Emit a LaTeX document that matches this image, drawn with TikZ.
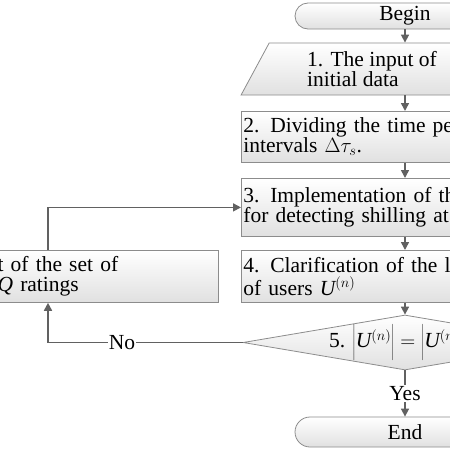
\documentclass[tikz,border=0pt]{standalone}
\usepackage{fontspec}
\setmainfont{Liberation Serif}
\usepackage{xcolor}
\usetikzlibrary{shapes.geometric, shapes.misc, arrows.meta}

\tikzset{
	shade/.style={draw=black!45, line width=0.8pt, top color=white, bottom color=black!12},
	txt/.style={font=\fontsize{21.5}{20}\selectfont},
	box/.style={shade, txt, rectangle, inner xsep=2pt, inner ysep=0pt, align=left},
	term/.style={shade, txt, rounded rectangle, minimum width=220pt, inner sep=0pt},
	arr/.style={draw=black!62, line width=1.6pt, -{Triangle[width=8pt,length=8pt]}},
	lbl/.style={txt, fill=white, inner sep=1pt},
}
\newcommand{\tallbar}{\rule[-12pt]{0pt}{30pt}}

\begin{document}
\begin{tikzpicture}[x=1pt, y=-1pt]
	\useasboundingbox (0,0) rectangle (450,450);
	\clip (0,0) rectangle (450,450);

	\node[term, minimum height=26pt] (begin) at (405,16) {Begin};
	\node[shade, txt, trapezium, trapezium left angle=63.4, trapezium right angle=116.6, trapezium stretches=true, minimum width=262pt, minimum height=52pt, align=left, inner sep=0pt] (input) at (372,69) {1. The input of\\initial data};
	\node[box, anchor=north west, text width=300pt, minimum height=51pt] (divide) at (241,111) {2. Dividing the time pe\\intervals $\Delta\tau_s$.};
	\node[box, anchor=north west, text width=300pt, minimum height=58pt] (implement) at (241,178) {3. Implementation of th\\for detecting shilling at};
	\node[box, anchor=north west, text width=300pt, minimum height=52pt, font=\fontsize{21.5}{23}\selectfont] (clarify) at (241,250) {4. Clarification of the li\\of users $\mathit{U}^{(n)}$};
	\node[box, anchor=north east, text width=219pt, minimum height=52pt] (fix) at (219,250) {t of the set of\\$\mathit{Q}$ ratings};
	\node[shade, diamond, minimum width=324pt, minimum height=55pt, inner sep=0pt] (check) at (405,342.5) {};
	\node[txt, anchor=west, inner sep=0pt] (cond) at (329,342.5) {5. $\left|\tallbar\mathit{U}^{(n)}\right| = \left|\tallbar\mathit{U}^{(n-}\right.$};
	\node[term, minimum height=30pt] (end) at (405,432) {End};

	\coordinate (back) at (48,0);

	\draw[arr] (begin.south) -- (begin.south |- input.north);
	\draw[arr] (begin.south |- input.south) -- (begin.south |- divide.north);
	\draw[arr] (begin.south |- divide.south) -- (begin.south |- implement.north);
	\draw[arr] (begin.south |- implement.south) -- (begin.south |- clarify.north);
	\draw[arr] (begin.south |- clarify.south) -- (check.north);
	\draw[arr] (check.south) -- node[lbl]{Yes} (end.north);
	\draw[arr] (check.west) -- node[lbl, pos=0.62]{No} (check.west -| back) -- (fix.south -| back);
	\draw[arr] (fix.north -| back) |- (implement.west);
\end{tikzpicture}
\end{document}
